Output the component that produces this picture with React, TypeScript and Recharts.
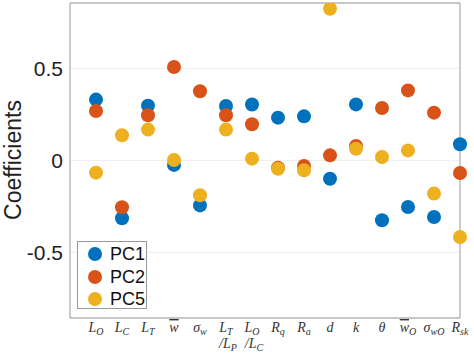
import React from 'react';
import { ScatterChart, Scatter, XAxis, YAxis, CartesianGrid, ReferenceArea } from 'recharts';

const categories = ['L_O', 'L_C', 'L_T', 'w_bar', 'sigma_w', 'L_T/L_P', 'L_O/L_C', 'R_q', 'R_a', 'd', 'k', 'theta', 'w_bar_O', 'sigma_wO', 'R_sk'];
const pc1 = [0.33, -0.315, 0.297, -0.025, -0.245, 0.295, 0.303, 0.232, 0.239, -0.1, 0.304, -0.326, -0.254, -0.308, 0.087];
const pc2 = [0.268, -0.255, 0.245, 0.507, 0.375, 0.245, 0.196, -0.04, -0.031, 0.027, 0.078, 0.284, 0.38, 0.259, -0.069];
const pc5 = [-0.067, 0.136, 0.167, 0.002, -0.19, 0.167, 0.009, -0.046, -0.054, 0.824, 0.063, 0.018, 0.054, -0.181, -0.417];
const seriesNames = ['PC1', 'PC2', 'PC5'];
const seriesColors = ['#0072BD', '#D95319', '#EDB120'];
const yTicks = [-0.5, 0, 0.5];
const yDomain = [-0.857, 0.855];

type TL = { m: string; s?: string; bar?: boolean; m2?: string; s2?: string };
const tickLabels: TL[] = [
  { m: 'L', s: 'O' },
  { m: 'L', s: 'C' },
  { m: 'L', s: 'T' },
  { m: 'w', bar: true },
  { m: 'σ', s: 'w' },
  { m: 'L', s: 'T', m2: '/L', s2: 'P' },
  { m: 'L', s: 'O', m2: '/L', s2: 'C' },
  { m: 'R', s: 'q' },
  { m: 'R', s: 'a' },
  { m: 'd' },
  { m: 'k' },
  { m: 'θ' },
  { m: 'w', s: 'O', bar: true },
  { m: 'σ', s: 'wO' },
  { m: 'R', s: 'sk' },
];

const toPoints = (vals: number[]) => vals.map((v, i) => ({ x: i + 1, y: v, name: categories[i] }));
const seriesData = [toPoints(pc1), toPoints(pc2), toPoints(pc5)];
const xTicks = categories.map((_, i) => i + 1);

const XTick = (props: any) => {
  const { x, y, payload } = props;
  const t = tickLabels[payload.value - 1];
  if (!t) return null;
  const base = y + 6;
  return (
    <g>
      <text x={x} y={base} textAnchor="middle" fontFamily="'Liberation Serif', serif" fontStyle="italic" fontSize={14} fill="#333">
        <tspan style={t.bar ? { textDecoration: 'overline' } : undefined}>{t.m}</tspan>
        {t.s ? <tspan fontSize={10} dy={3}>{t.s}</tspan> : null}
      </text>
      {t.m2 ? (
        <text x={x + 2} y={base + 16} textAnchor="middle" fontFamily="'Liberation Serif', serif" fontStyle="italic" fontSize={14} fill="#333">
          <tspan>{t.m2}</tspan>
          <tspan fontSize={10} dy={3}>{t.s2}</tspan>
        </text>
      ) : null}
    </g>
  );
};

const LegendBox = () => (
  <div style={{ position: 'absolute', left: 77, top: 241, width: 70, height: 68, border: '1px solid #999', background: '#fff', boxSizing: 'border-box' }}>
    {seriesNames.map((n, i) => (
      <div key={n} style={{ position: 'absolute', left: 0, top: 1 + i * 22.5, height: 22, display: 'flex', alignItems: 'center' }}>
        <svg width={32} height={22}>
          <circle cx={17} cy={11} r={7} fill={seriesColors[i]} />
        </svg>
        <span style={{ fontFamily: "'Liberation Sans', Arial, sans-serif", fontSize: 18, color: '#111', lineHeight: '22px' }}>{n}</span>
      </div>
    ))}
  </div>
);

export default function App() {
  return (
    <div style={{ position: 'absolute', left: 0, top: 0, width: 474, height: 358, background: '#fff' }}>
      <ScatterChart width={474} height={358} margin={{ top: 3, right: 14, bottom: 0, left: 0 }}>
        <CartesianGrid vertical={false} stroke="#ececec" />
        <XAxis
          type="number"
          dataKey="x"
          domain={[0, 15]}
          ticks={xTicks}
          interval={0}
          axisLine={false}
          tickLine={false}
          height={40}
          tick={<XTick />}
        />
        <YAxis
          type="number"
          dataKey="y"
          domain={yDomain}
          ticks={yTicks}
          interval={0}
          allowDataOverflow
          axisLine={false}
          tickLine={false}
          tickSize={0}
          tickMargin={7}
          width={70}
          tick={{ fontFamily: "'Liberation Sans', Arial, sans-serif", fontSize: 21, fill: '#222' }}
          tickFormatter={(v: number) => (v === 0 ? '0' : String(v))}
          label={{
            content: () => (
              <text x={21} y={160} transform="rotate(-90, 21, 160)" textAnchor="middle" fontFamily="'Liberation Sans', Arial, sans-serif" fontSize={23} fill="#222">
                Coefficients
              </text>
            ),
          }}
        />
        <ReferenceArea x1={0} x2={15} y1={yDomain[0]} y2={yDomain[1]} fill="none" stroke="#999" strokeWidth={1} ifOverflow="extendDomain" />
        {seriesData.map((d, i) => (
          <Scatter
            key={seriesNames[i]}
            name={seriesNames[i]}
            data={d}
            fill={seriesColors[i]}
            isAnimationActive={false}
            shape={(p: any) => <circle cx={p.cx} cy={p.cy} r={7} fill={seriesColors[i]} />}
          />
        ))}
      </ScatterChart>
      <LegendBox />
    </div>
  );
}
